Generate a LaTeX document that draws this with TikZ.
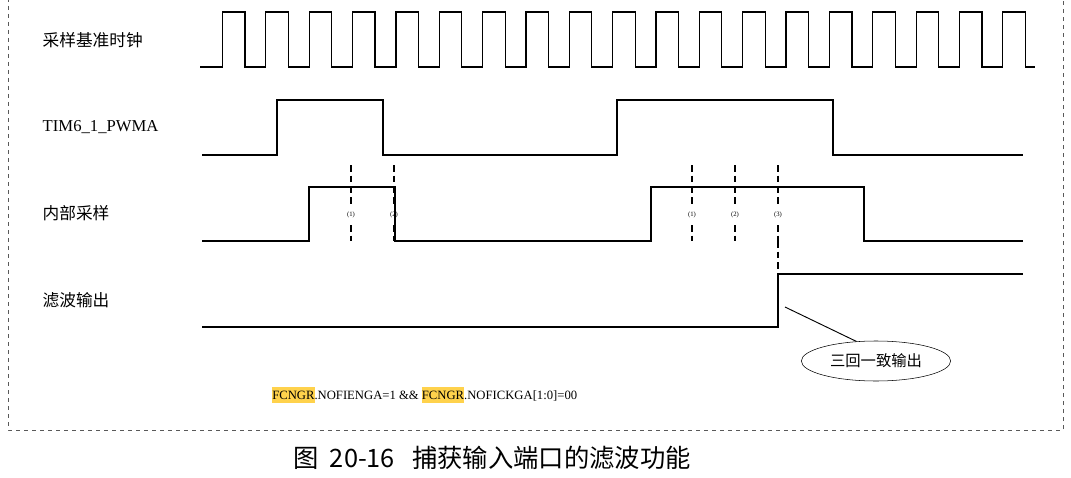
\documentclass[tikz,border=0pt]{standalone}
\usepackage{fontspec}
\setmainfont{Liberation Serif}
\newfontfamily\cjk{Noto Sans CJK SC}
\usetikzlibrary{shapes.geometric}
\begin{document}
\begin{tikzpicture}[x=0.75pt,y=-0.75pt,
  sig/.style={line width=0.9pt},
  lbl/.style={anchor=west,font=\cjk\fontsize{12.5}{14}\selectfont},
  numlbl/.style={font=\fontsize{5}{6}\selectfont},
  dl/.style={dash pattern=on 5pt off 3pt,line width=0.8pt}]
\useasboundingbox (0,0) rectangle (1071,478);
\draw[dashed,gray!70!black] (8,-2) -- (8,430) -- (1063,430) -- (1063,-2);
\node[lbl] (l1) at (38,40) {采样基准时钟};
\node[lbl,font=\fontsize{12.5}{14}\selectfont] (l2) at (38,127) {TIM6\_1\_PWMA};
\node[lbl] (l3) at (38,213) {内部采样};
\node[lbl] (l4) at (38,300) {滤波输出};
% clock
\draw[sig] (200,67) \foreach \k in {0,...,18} {
  -- ({222.5+43.35*\k},67) -- ({222.5+43.35*\k},12) -- ({245+43.35*\k},12) -- ({245+43.35*\k},67)} -- (1035,67);
% PWM
\draw[sig] (202,155) -- (277,155) -- (277,100) -- (383,100) -- (383,155) -- (617,155) -- (617,100) -- (833,100) -- (833,155) -- (1023,155);
% internal sample
\draw[sig] (202,241) -- (309,241) -- (309,187) -- (395,187) -- (395,241) -- (651,241) -- (651,187) -- (864,187) -- (864,241) -- (1023,241);
% filter output
\draw[sig] (202,327) -- (778,327) -- (778,274) -- (1023,274);
% dashed markers
\foreach \x/\t in {351/(1),394/(2),692/(1),735/(2),778/(3)} {
  \draw[dl] (\x,165) -- (\x,205);
  \node[numlbl] at (\x,215) {\t};
  \draw[dl] (\x,225) -- (\x,241);
}
\draw[dl] (778,241) -- (778,274);
\node[draw,ellipse,minimum width=112pt,minimum height=30pt,font=\cjk\fontsize{11.5}{13}\selectfont,inner sep=0pt] (e) at (876,361) {三回一致输出};
\coordinate (p) at (785,307);
\draw[line width=0.7pt] (p) -- (e.135);
\node[anchor=west,font=\fontsize{9.5}{10}\selectfont,inner sep=0pt] (t) at (272,395)
  {\colorbox{orange!50!yellow!70}{\hspace{-3pt}FCNGR\hspace{-3pt}}.NOFIENGA=1 \&\& \colorbox{orange!50!yellow!70}{\hspace{-3pt}FCNGR\hspace{-3pt}}.NOFICKGA[1:0]=00};
\node[font=\cjk\fontsize{19}{22}\selectfont] (cap) at (492,458) {图\ \ 20-16\ \ \ 捕获输入端口的滤波功能};
\end{tikzpicture}
\end{document}
